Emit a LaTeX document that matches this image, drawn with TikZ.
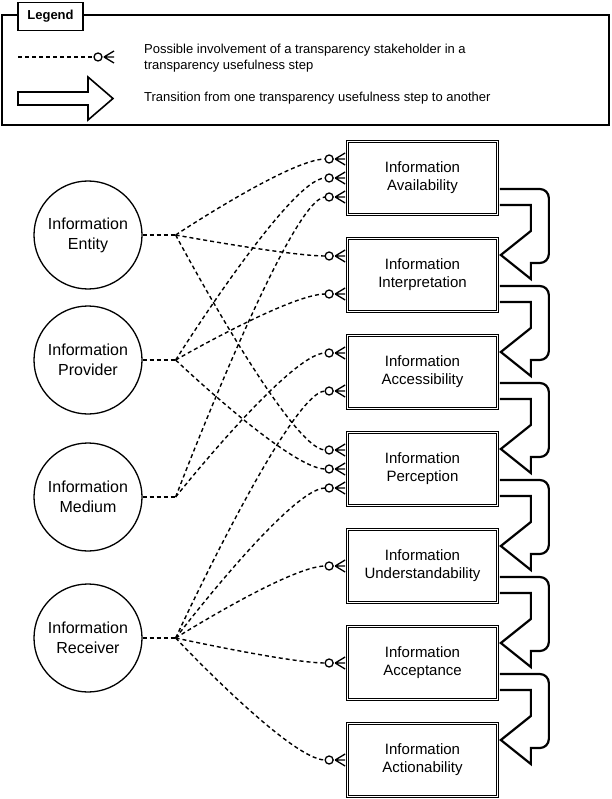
\documentclass[tikz,border=0pt]{standalone}
\usepackage{fontspec}
\setmainfont{Liberation Sans}
\tikzset{
	role/.style={circle, draw=black, line width=1.3pt, minimum size=108pt, inner sep=0pt, align=center, font=\fontsize{16}{20}\selectfont},
	stepbox/.style={rectangle, draw=black, double, double distance=1.4pt, line width=1.1pt, minimum width=150pt, minimum height=73pt, inner sep=0pt, align=center, font=\fontsize{15}{18}\selectfont},
	link/.style={draw=black, line width=1.4pt, dash pattern=on 4pt off 3pt, to path={.. controls (\tikztostart) and ([xshift=-35pt]\tikztotarget) .. (\tikztotarget)}},
	foot/.pic={
		\draw[black, line width=1.3pt, fill=white] (4pt,0pt) circle (4pt);
		\draw[black, line width=1.3pt] (10pt,0pt) -- (20pt,6pt) (10pt,0pt) -- (20pt,-6pt) (10pt,0pt) -- (20pt,0pt);
	},
	turn/.pic={
		\draw[black, line width=2.2pt, fill=white] (0,-11) -- (40,-11) arc[start angle=90, end angle=0, radius=9pt] -- (49,-76) arc[start angle=0, end angle=-90, radius=9pt] -- (31,-85) -- (31,-101) -- (1,-77) -- (31,-53) -- (31,-27) -- (0,-27);
	}
}
\begin{document}
\begin{tikzpicture}[x=1pt, y=1pt, font=\fontsize{13}{15.6}\selectfont]
	\useasboundingbox (0,0) rectangle (611,-799);
	\draw[black, line width=1.4pt] (2,-15) rectangle (609,-125);
	\node[draw=black, line width=1.4pt, fill=white, minimum width=65pt, minimum height=28pt, inner sep=0pt, font=\fontsize{13}{15.6}\selectfont\bfseries] (legend) at (50.5,-16.5) {Legend};
	\coordinate (key-a) at (18,-57);
	\coordinate (key-b) at (94,-57);
	\draw[link] (key-a) -- (key-b);
	\pic at (key-b) {foot};
	\node[anchor=west, align=left, inner sep=0pt] (key-link) at (144,-58) {Possible involvement of a transparency stakeholder in a\\transparency usefulness step};
	\draw[black, line width=1.6pt, fill=white] (18,-92) -- (88,-92) -- (88,-77) -- (113,-98.5) -- (88,-120) -- (88,-105) -- (18,-105) -- cycle;
	\node[anchor=west, inner sep=0pt] (key-turn) at (144,-98.5) {Transition from one transparency usefulness step to another};
	\node[role] (entity) at (88,-235) {Information\\Entity};
	\node[role] (provider) at (88,-360) {Information\\Provider};
	\node[role] (medium) at (88,-497) {Information\\Medium};
	\node[role] (receiver) at (88,-638) {Information\\Receiver};
	\node[stepbox] (avail) at (422.5,-178) {Information\\Availability};
	\node[stepbox] (interp) at (422.5,-275) {Information\\Interpretation};
	\node[stepbox] (access) at (422.5,-372) {Information\\Accessibility};
	\node[stepbox] (percep) at (422.5,-469) {Information\\Perception};
	\node[stepbox] (under) at (422.5,-566) {Information\\Understandability};
	\node[stepbox] (accept) at (422.5,-663) {Information\\Acceptance};
	\node[stepbox] (action) at (422.5,-760) {Information\\Actionability};
	\foreach \n in {entity, provider, medium, receiver}{
		\coordinate (\n-f) at ([xshift=33pt]\n.east);
		\draw[link] (\n.east) -- (\n-f);
	}
	\foreach \n in {avail, interp, access, percep, under, accept, action}{
		\coordinate (\n-t) at ([xshift=-21.8pt, yshift=19pt]\n.west);
		\coordinate (\n-m) at ([xshift=-21.8pt]\n.west);
		\coordinate (\n-b) at ([xshift=-21.8pt, yshift=-19pt]\n.west);
	}
	\foreach \a/\b in {entity/avail-t, entity/interp-t, entity/percep-t, provider/avail-m, provider/interp-b, provider/percep-m, medium/avail-b, medium/access-t, receiver/access-b, receiver/percep-b, receiver/under-m, receiver/accept-m, receiver/action-m}{
		\draw[link] (\a-f) to (\b);
		\pic at (\b) {foot};
	}
	\foreach \n in {avail, interp, access, percep, under, accept}
		\pic at ([xshift=1.8pt]\n.east) {turn};
\end{tikzpicture}
\end{document}
